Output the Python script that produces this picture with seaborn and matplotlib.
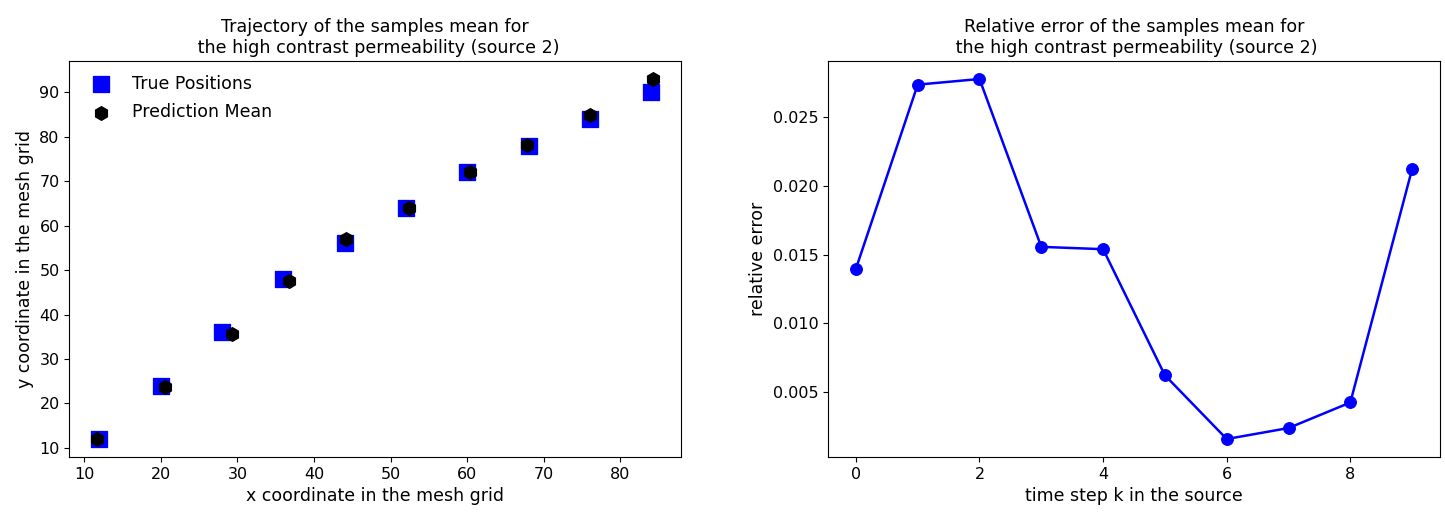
import numpy as np
import pandas as pd
import seaborn as sns
import matplotlib
matplotlib.use('Agg')
import matplotlib.pyplot as plt


# true source positions and the mean of the predicted samples
true_x = [12, 20, 28, 36, 44, 52, 60, 68, 76, 84]
true_y = [12, 24, 36, 48, 56, 64, 72, 78, 84, 90]
pred_x = [11.7, 20.6, 29.3, 36.7, 44.2, 52.4, 60.3, 67.8, 76.0, 84.3]
pred_y = [12.0, 23.8, 35.7, 47.6, 56.9, 64.0, 72.0, 78.2, 84.8, 93.0]

# relative error per time step
time_step = list(range(10))
rel_error = [0.01396, 0.02737, 0.02778, 0.01556, 0.01539,
             0.00621, 0.00157, 0.00237, 0.00423, 0.02123]


def main():
    true_df = pd.DataFrame({'x': true_x, 'y': true_y})
    pred_df = pd.DataFrame({'x': pred_x, 'y': pred_y})
    err_df = pd.DataFrame({'k': time_step, 'err': rel_error})

    fig, (ax1, ax2) = plt.subplots(1, 2, figsize=(14.45, 5.17), dpi=100)
    plt.subplots_adjust(left=0.048, right=0.9965, top=0.882, bottom=0.116, wspace=0.24)

    sns.scatterplot(x='x', y='y', data=true_df, ax=ax1, marker='s', s=140,
                    color='blue', edgecolor='blue', label='True Positions')
    sns.scatterplot(x='x', y='y', data=pred_df, ax=ax1, marker='h', s=100,
                    color='black', edgecolor='black', label='Prediction Mean')
    ax1.set_title('Trajectory of the samples mean for\n the high contrast permeability (source 2)', fontsize=12.6)
    ax1.set_xlabel('x coordinate in the mesh grid', fontsize=12.5)
    ax1.set_ylabel('y coordinate in the mesh grid', fontsize=12.5)
    ax1.set_xticks(range(10, 90, 10))
    ax1.set_yticks(range(10, 100, 10))
    ax1.legend(loc='upper left', frameon=False, fontsize=12.5, labelspacing=0.6,
               borderaxespad=0.4, markerscale=1.0)

    sns.lineplot(x='k', y='err', data=err_df, ax=ax2, color='blue', marker='o',
                 markersize=8.5, markeredgecolor='blue', linewidth=1.8)
    ax2.set_title('Relative error of the samples mean for\n the high contrast permeability (source 2)', fontsize=12.6)
    ax2.set_xlabel('time step k in the source', fontsize=12.5)
    ax2.set_ylabel('relative error', fontsize=12.5)
    ax2.set_xticks([0, 2, 4, 6, 8])

    for ax in (ax1, ax2):
        ax.tick_params(labelsize=11.5)

    plt.savefig('out.png')
    plt.close()


if __name__ == '__main__':
    main()
